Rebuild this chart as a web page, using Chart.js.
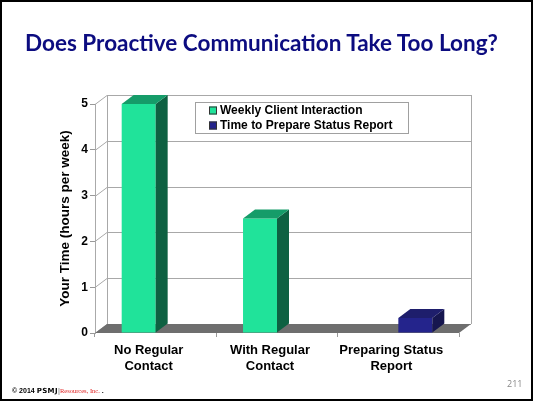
<!DOCTYPE html>
<html>
<head>
<meta charset="utf-8">
<script src="https://cdn.jsdelivr.net/npm/chart.js@4.4.0/dist/chart.umd.min.js"></script>
<style>
html, body { margin: 0; padding: 0; background: #fff; }
#slide { position: relative; width: 535px; height: 403px; overflow: hidden; }
#frame { position: absolute; left: 0; top: 0; width: 533px; height: 401px; box-sizing: border-box; border: 2px solid #000; }
#chart { position: absolute; left: 0; top: 0; }
h1 { position: absolute; left: 0; top: 28px; width: 523px; margin: 0; text-align: center;
     font: bold 22.5px Lato, "Open Sans", sans-serif; color: #0c0c80; line-height: 30px; }
#foot { position: absolute; left: 12px; top: 387px; font: bold 7px Arial, "Liberation Sans", sans-serif; color: #000; white-space: nowrap; }
#foot .psmj { font-family: "DejaVu Sans"; font-weight: bold; letter-spacing: 0.4px; }
#foot .res { font: 6.5px "Liberation Serif", serif; color: #e02020; }
#page { position: absolute; left: 507px; top: 377px; font: 9px "Open Sans", sans-serif; color: #888; }
</style>
</head>
<body>
<div id="slide">
  <canvas id="chart" width="535" height="403"></canvas>
  <div id="frame"></div>
  <h1>Does Proactive Communication Take Too Long?</h1>
  <div id="foot">© 2014 <span class="psmj">PSMJ</span><span style="color:#999">|</span><span class="res">Resources, Inc.</span> .</div>
  <div id="page">211</div>
</div>
<script>
var categories = [['No Regular', 'Contact'], ['With Regular', 'Contact'], ['Preparing Status', 'Report']];
var weeklyClient = [5, 2.5, 0];
var statusReport = [0, 0, 0.33];
var seriesNames = ['Weekly Client Interaction', 'Time to Prepare Status Report'];
var yTicks = [0, 1, 2, 3, 4, 5];

// depth of the fake 3D box
var DX = 12, DY = 9;

var box3d = {
    id: 'box3d',
    beforeDatasetsDraw: function(chart) {
        var ctx = chart.ctx, a = chart.chartArea, y = chart.scales.y;
        var top = y.getPixelForValue(yTicks[yTicks.length - 1]);
        ctx.save();
        ctx.strokeStyle = '#a8a8a8';
        ctx.lineWidth = 1;
        yTicks.forEach(function(v) {
            var py = Math.round(y.getPixelForValue(v)) + 0.5;
            ctx.beginPath();
            ctx.moveTo(a.left, py);
            ctx.lineTo(a.left + DX, py - DY);
            ctx.lineTo(a.right + DX, py - DY);
            ctx.stroke();
        });
        ctx.beginPath();
        ctx.moveTo(a.left + DX + 0.5, top - DY);
        ctx.lineTo(a.left + DX + 0.5, a.bottom - DY);
        ctx.moveTo(a.right + DX + 0.5, top - DY);
        ctx.lineTo(a.right + DX + 0.5, a.bottom - DY);
        ctx.stroke();
        // floor
        ctx.fillStyle = '#6e6e6e';
        ctx.beginPath();
        ctx.moveTo(a.left, a.bottom);
        ctx.lineTo(a.right, a.bottom);
        ctx.lineTo(a.right + DX, a.bottom - DY);
        ctx.lineTo(a.left + DX, a.bottom - DY);
        ctx.closePath();
        ctx.fill();
        ctx.restore();
    },
    afterDatasetsDraw: function(chart) {
        var ctx = chart.ctx;
        ctx.save();
        chart.data.datasets.forEach(function(ds, i) {
            chart.getDatasetMeta(i).data.forEach(function(bar, j) {
                if (!ds.data[j]) return;
                var p = bar.getProps(['x', 'y', 'base', 'width'], true);
                var l = p.x - p.width / 2, r = p.x + p.width / 2, t = p.y, b = p.base;
                ctx.fillStyle = ds.sideColor;
                ctx.beginPath();
                ctx.moveTo(r, t); ctx.lineTo(r + DX, t - DY); ctx.lineTo(r + DX, b - DY); ctx.lineTo(r, b);
                ctx.closePath(); ctx.fill();
                ctx.fillStyle = ds.topColor;
                ctx.beginPath();
                ctx.moveTo(l, t); ctx.lineTo(l + DX, t - DY); ctx.lineTo(r + DX, t - DY); ctx.lineTo(r, t);
                ctx.closePath(); ctx.fill();
            });
        });
        ctx.restore();
    },
    afterDraw: function(chart) {
        // legend box sits inside the plot, like the original
        var ctx = chart.ctx;
        var lx = 195, ly = 102, lw = 213, lh = 31;
        ctx.save();
        ctx.fillStyle = '#fff';
        ctx.fillRect(lx, ly, lw, lh);
        ctx.strokeStyle = '#a0a0a0';
        ctx.lineWidth = 1;
        ctx.strokeRect(lx + 0.5, ly + 0.5, lw, lh);
        ctx.font = 'bold 12px Arial, "Liberation Sans", sans-serif';
        ctx.textBaseline = 'middle';
        chart.data.datasets.forEach(function(ds, i) {
            var cy = ly + 8.5 + i * 15;
            ctx.fillStyle = ds.backgroundColor;
            ctx.fillRect(lx + 14, cy - 4, 8, 8);
            ctx.strokeStyle = '#333';
            ctx.strokeRect(lx + 14.5, cy - 3.5, 7, 7);
            ctx.fillStyle = '#000';
            ctx.fillText(ds.label, lx + 25, cy + 0.5);
        });
        ctx.restore();
    }
};

var font = 'Arial, "Liberation Sans", sans-serif';

new Chart(document.getElementById('chart').getContext('2d'), {
    type: 'bar',
    data: {
        labels: categories,
        datasets: [{
            label: seriesNames[0],
            data: weeklyClient,
            backgroundColor: '#20e39a',
            sideColor: '#0e6142',
            topColor: '#159c69'
        }, {
            label: seriesNames[1],
            data: statusReport,
            backgroundColor: '#24248c',
            sideColor: '#16164f',
            topColor: '#1e1e6c'
        }]
    },
    options: {
        responsive: false,
        animation: false,
        layout: { padding: { top: 104, right: 76, bottom: 0, left: 0 } },
        categoryPercentage: 0.56,
        barPercentage: 1,
        plugins: { legend: { display: false }, tooltip: { enabled: false } },
        scales: {
            x: {
                grid: { display: true, drawOnChartArea: false, drawTicks: true, tickLength: 4, color: '#999', offset: true },
                border: { display: false },
                ticks: { font: { family: font, weight: 'bold', size: 13 }, color: '#000', padding: 6, labelOffset: -7, maxRotation: 0, autoSkip: false },
                afterFit: function(s) { s.height = 70; }
            },
            y: {
                min: 0,
                max: 5,
                ticks: { stepSize: 1, font: { family: font, weight: 'bold', size: 12 }, color: '#000', padding: 2 },
                grid: { display: true, drawOnChartArea: false, drawTicks: true, tickLength: 5, color: '#999' },
                border: { display: true, color: '#aaa' },
                title: { display: true, text: 'Your Time (hours per week)', color: '#000',
                         font: { family: font, weight: 'bold', size: 13.5 }, padding: { top: 57, bottom: 0 } },
                afterFit: function(s) { s.width = 95; }
            }
        }
    },
    plugins: [box3d]
});
</script>
</body>
</html>
